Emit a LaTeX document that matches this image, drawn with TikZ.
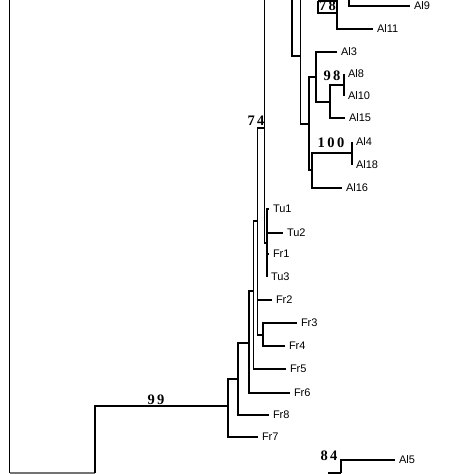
\documentclass[tikz,border=0pt]{standalone}
\usepackage{fontspec}
\newfontfamily\taxfont{Liberation Sans}
\newfontfamily\bsfont{Liberation Serif}
\usetikzlibrary{positioning}

\begin{document}
\begin{tikzpicture}[x=1pt,y=-1pt,
    line width=1.6pt, line cap=butt, line join=miter,
    every node/.style={inner sep=0pt,outer sep=0pt},
    taxon/.style={font=\taxfont\fontsize{11}{13}\selectfont},
    boot/.style={font=\bsfont\bfseries\fontsize{14.5}{16}\selectfont}]
  \useasboundingbox (0,0) rectangle (474,474);
  % ---- inner nodes (x = node, y = stem) ----
  \coordinate (root)  at (9.5,0);
  \coordinate (rootB) at (9.5,473);
  \coordinate (n95)   at (95,473);
  \coordinate (n99)   at (228,406);
  \coordinate (nF8)   at (238,379);
  \coordinate (nF6)   at (249,343);
  \coordinate (nF5)   at (253.5,291);
  \coordinate (nX)    at (257.5,221);
  \coordinate (n74)   at (264.5,128);
  \coordinate (c74up) at (264.5,0);
  \coordinate (nTu)   at (267,243);
  \coordinate (nF34)  at (263,335);
  \coordinate (c292)  at (292,0);
  \coordinate (n300)  at (300.5,56);
  \coordinate (c300up) at (300.5,0);
  \coordinate (nA)    at (309,124);
  \coordinate (nA3)   at (316,77);
  \coordinate (n330)  at (330,102);
  \coordinate (n98)   at (344,85);
  \coordinate (nB)    at (312,170);
  \coordinate (n100)  at (352,153);
  \coordinate (c318)  at (318,1);
  \coordinate (c337up) at (337,1);
  \coordinate (n337)  at (337,13);
  \coordinate (c349)  at (349,0);
  \coordinate (c84L)  at (328,473);
  \coordinate (n84)   at (341,473);
  % ---- leaf tips ----
  \coordinate (tAl9)  at (410,6);
  \coordinate (tAl11) at (373,29);
  \coordinate (tAl3)  at (337,52);
  \coordinate (tAl8)  at (344,74);
  \coordinate (tAl10) at (344,96);
  \coordinate (tAl15) at (345,118);
  \coordinate (tAl4)  at (352,142);
  \coordinate (tAl18) at (352,165);
  \coordinate (tAl16) at (342,188);
  \coordinate (tTu1)  at (269,209);
  \coordinate (tTu2)  at (283,233);
  \coordinate (tFr1)  at (269,254);
  \coordinate (tTu3)  at (267,277);
  \coordinate (tFr2)  at (272,300);
  \coordinate (tFr3)  at (297,323);
  \coordinate (tFr4)  at (285,346);
  \coordinate (tFr5)  at (286,369);
  \coordinate (tFr6)  at (290,393);
  \coordinate (tFr8)  at (269,415);
  \coordinate (tFr7)  at (258,437);
  \coordinate (tAl5)  at (395,460);
  % ---- branches ----
  \draw (root) -- (rootB);
  \draw[black!55] (rootB) -- (n95);
  \draw (n95) |- (n99);
  \draw (n99) |- (nF8)  (n99) |- (tFr7);
  \draw (nF8) |- (nF6)  (nF8) |- (tFr8);
  \draw (nF6) |- (nF5)  (nF6) |- (tFr6);
  \draw (nF5) |- (nX)   (nF5) |- (tFr5);
  \draw (nX) |- (n74)   (nX) |- (tFr2)  (nX) |- (nF34);
  \draw (nF34) |- (tFr3)  (nF34) |- (tFr4);
  \draw (c74up) -- (n74) |- (nTu);
  \draw (nTu) |- (tTu1)  (nTu) |- (tTu2)  (nTu) |- (tFr1)  (nTu) |- (tTu3);
  % Al clade
  \draw (c292) |- (n300);
  \draw (c300up) -- (n300) |- (nA);
  \draw (nA) |- (nA3)  (nA) |- (nB);
  \draw (nA3) |- (tAl3)  (nA3) |- (n330);
  \draw (n330) |- (n98)  (n330) |- (tAl15);
  \draw (tAl8) -- (tAl10);
  \draw (nB) |- (n100)  (nB) |- (tAl16);
  \draw (tAl4) -- (tAl18);
  \draw (c318) |- (n337)  (c318) -- (c337up) -- (n337) |- (tAl11);
  \draw (c349) |- (tAl9);
  \draw[line width=2.2pt] (c84L) -- (n84);
  \draw (n84) |- (tAl5);
  % ---- taxon labels ----
  \foreach \t in {Al9,Al11,Al3,Al8,Al10,Al15,Al4,Al18,Al16,
                  Tu1,Tu2,Fr1,Tu3,Fr2,Fr3,Fr4,Fr5,Fr6,Fr8,Fr7,Al5}
    \node[taxon,anchor=west,right=4pt of t\t] (l\t) {\t};
  % ---- bootstrap values ----
  \node[boot] (b78)  at (327.5,6)  {7\,8};
  \node[boot] (b98)  at (332,76)   {9\,8};
  \node[boot] (b100) at (331,143)  {1\,0\,0};
  \node[boot] (b74)  at (256,121)  {7\,4};
  \node[boot] (b99)  at (156,400)  {9\,9};
  \node[boot] (b84)  at (329,456)  {8\,4};
\end{tikzpicture}
\end{document}
